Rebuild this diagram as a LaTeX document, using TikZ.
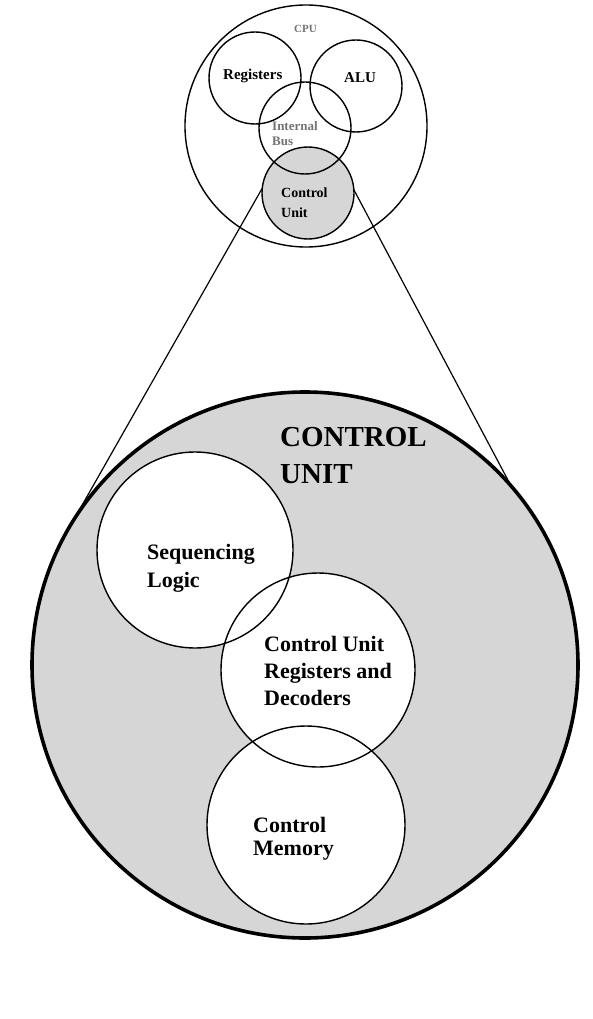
\documentclass[tikz,border=0pt]{standalone}
\usepackage{fontspec}
\setmainfont{Liberation Serif}
\usepackage{tikz}
\definecolor{unitgray}{gray}{0.84}

\begin{document}
\begin{tikzpicture}
                [x=1pt,y=-1pt,
                 ring/.style={circle,draw,line width=1.4pt,inner sep=0pt,outer sep=0pt},
                 lbl/.style={inner sep=0pt,anchor=base west,align=left,font=\bfseries}]
                \useasboundingbox (0,0) rectangle (592,1019);

                % fills first
                \fill[unitgray] (308,193) circle (46pt);
                \fill[unitgray] (305,665) circle (273pt);
                \fill[white] (195,550) circle (98pt);
                \fill[white] (318,670) circle (97pt);
                \fill[white] (306,825) circle (99pt);

                % CPU
                \node[ring,minimum size=242pt] (cpu) at (306,126) {};
                \node[ring,minimum size=92pt] (reg) at (255,78) {};
                \node[ring,minimum size=92pt] (alu) at (356,86) {};
                \node[ring,minimum size=92pt] (bus) at (305,128) {};
                \node[ring,minimum size=92pt] (cu) at (308,193) {};

                % control unit
                \node[ring,line width=3.6pt,minimum size=546pt] (ctrl) at (305,665) {};
                \node[ring,minimum size=196pt] (seq) at (195,550) {};
                \node[ring,minimum size=194pt] (cureg) at (318,670) {};
                \node[ring,minimum size=198pt] (cmem) at (306,825) {};

                \draw[line width=1.2pt] (cu.174) -- (ctrl.148);
                \draw[line width=1.2pt] (cu.4) -- (ctrl.41);

                % labels, placed at the baseline of their last line
                \node[lbl,text=black!55,font=\bfseries\fontsize{11}{12}\selectfont] (tcpu) at (294,33) {CPU};
                \node[lbl,font=\bfseries\fontsize{15}{18}\selectfont] (treg) at (223,80) {Registers};
                \node[lbl,font=\bfseries\fontsize{15}{18}\selectfont] (talu) at (344,83) {ALU};
                \node[lbl,text=black!55,font=\bfseries\fontsize{13}{15}\selectfont] (tbus) at (272,146) {Internal\\Bus};
                \node[lbl,font=\bfseries\fontsize{14}{20}\selectfont] (tcu) at (281,217) {Control\\Unit};

                \node[lbl,font=\bfseries\fontsize{29}{37}\selectfont] (tctrl) at (280,483) {CONTROL\\UNIT};
                \node[lbl,font=\bfseries\fontsize{22}{28}\selectfont] (tseq) at (147,587) {Sequencing\\Logic};
                \node[lbl,font=\bfseries\fontsize{22}{27}\selectfont] (tcureg) at (264,705) {Control Unit\\Registers and\\Decoders};
                \node[lbl,font=\bfseries\fontsize{22}{23}\selectfont] (tcmem) at (253,855) {Control\\Memory};
            \end{tikzpicture}
\end{document}
